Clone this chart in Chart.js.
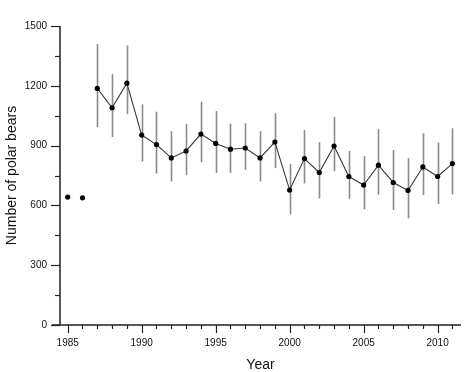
<!DOCTYPE html>
<html>
<head>
<meta charset="utf-8">
<script src="https://cdn.jsdelivr.net/npm/chart.js@4.4.1/dist/chart.umd.min.js"></script>
<style>
  html, body { margin: 0; padding: 0; background: #fff; }
  #wrap { width: 474px; height: 372px; position: relative; }
</style>
</head>
<body>
<div id="wrap"><canvas id="bears"></canvas></div>
<script>
// survey years and estimated number of polar bears, with confidence limits
const years = [1985, 1986, 1987, 1988, 1989, 1990, 1991, 1992, 1993, 1994, 1995, 1996, 1997, 1998,
               1999, 2000, 2001, 2002, 2003, 2004, 2005, 2006, 2007, 2008, 2009, 2010, 2011];
const estimates = [642, 638, 1187, 1090, 1213, 953, 905, 838, 873, 958, 911, 882, 888, 838,
                   918, 677, 835, 765, 898, 745, 702, 802, 715, 675, 793, 745, 810];
const lowerCI = [null, null, 993, 943, 1058, 820, 760, 720, 752, 817, 763, 763, 778, 720,
                 787, 555, 710, 635, 772, 633, 580, 653, 577, 535, 652, 607, 655];
const upperCI = [null, null, 1409, 1258, 1402, 1107, 1070, 972, 1008, 1120, 1073, 1010, 1012, 972,
                 1062, 808, 978, 917, 1043, 873, 847, 983, 878, 837, 962, 915, 987];
const xTickYears = [1985, 1990, 1995, 2000, 2005, 2010];
const yTickValues = [0, 300, 600, 900, 1200, 1500];

const FONT = "'Liberation Sans', Arial, Helvetica, sans-serif";

// early estimates (no interval) are shown as loose points, the rest as a joined series
const loosePoints = [];
const seriesPoints = [];
years.forEach((yr, i) => {
    const p = { x: yr, y: estimates[i] };
    if (lowerCI[i] === null) loosePoints.push(p); else seriesPoints.push(p);
});

const axesAndBars = {
    id: 'axesAndBars',
    beforeDatasetsDraw(chart) {
        const ctx = chart.ctx;
        const xs = chart.scales.x, ys = chart.scales.y;
        const area = chart.chartArea;
        ctx.save();
        // error bars
        ctx.strokeStyle = '#8a8a8a';
        ctx.lineWidth = 1.6;
        years.forEach((yr, i) => {
            if (lowerCI[i] === null) return;
            const px = Math.round(xs.getPixelForValue(yr)) + 0.5;
            ctx.beginPath();
            ctx.moveTo(px, ys.getPixelForValue(lowerCI[i]));
            ctx.lineTo(px, ys.getPixelForValue(upperCI[i]));
            ctx.stroke();
        });
        ctx.restore();
    },
    afterDraw(chart) {
        const ctx = chart.ctx;
        const xs = chart.scales.x, ys = chart.scales.y;
        const area = chart.chartArea;
        ctx.save();
        ctx.strokeStyle = '#222';
        ctx.lineWidth = 1.5;
        // axis lines
        ctx.beginPath();
        ctx.moveTo(area.left - 8, area.bottom);
        ctx.lineTo(area.right, area.bottom);
        ctx.moveTo(area.left, area.bottom);
        ctx.lineTo(area.left, area.top);
        ctx.stroke();
        // x ticks, one per year, longer at labelled years
        ctx.lineWidth = 1.2;
        years.forEach(yr => {
            const px = Math.round(xs.getPixelForValue(yr)) + 0.5;
            const len = xTickYears.includes(yr) ? 8 : 4;
            ctx.beginPath();
            ctx.moveTo(px, area.bottom);
            ctx.lineTo(px, area.bottom + len);
            ctx.stroke();
        });
        // y ticks every 150, longer at labelled values
        for (let v = 0; v <= 1500; v += 150) {
            const py = Math.round(ys.getPixelForValue(v)) + 0.5;
            const len = yTickValues.includes(v) ? 9 : 5;
            ctx.beginPath();
            ctx.moveTo(area.left - len, py);
            ctx.lineTo(area.left, py);
            ctx.stroke();
        }
        // axis titles
        ctx.fillStyle = '#111';
        ctx.font = '14px ' + FONT;
        ctx.textAlign = 'center';
        ctx.textBaseline = 'middle';
        ctx.fillText('Year', (area.left + area.right) / 2, 365);
        ctx.translate(12, (area.top + area.bottom) / 2);
        ctx.rotate(-Math.PI / 2);
        ctx.fillText('Number of polar bears', 0, 0);
        ctx.restore();
    }
};

new Chart(document.getElementById('bears'), {
    type: 'scatter',
    data: {
        datasets: [{
            label: 'Estimates',
            data: seriesPoints,
            showLine: true,
            borderColor: '#3a3a3a',
            borderWidth: 1.1,
            pointRadius: 2.6,
            pointBackgroundColor: '#000',
            pointBorderWidth: 0
        }, {
            label: 'Early estimates',
            data: loosePoints,
            showLine: false,
            pointRadius: 2.6,
            pointBackgroundColor: '#000',
            pointBorderWidth: 0
        }]
    },
    options: {
        responsive: true,
        maintainAspectRatio: false,
        animation: false,
        layout: { padding: { top: 26, right: 13, left: 0, bottom: 0 } },
        plugins: {
            legend: { display: false },
            tooltip: { enabled: false }
        },
        scales: {
            x: {
                type: 'linear',
                min: 1984.48,
                max: 2011.58,
                border: { display: false },
                grid: { display: false, drawTicks: false },
                afterBuildTicks: scale => { scale.ticks = xTickYears.map(v => ({ value: v })); },
                afterFit: scale => { scale.height = 47; },
                ticks: {
                    autoSkip: false,
                    maxRotation: 0,
                    padding: 12,
                    color: '#111',
                    font: { family: FONT, size: 10 },
                    callback: v => String(v)
                }
            },
            y: {
                min: 0,
                max: 1500,
                border: { display: false },
                grid: { display: false, drawTicks: false },
                afterBuildTicks: scale => { scale.ticks = yTickValues.map(v => ({ value: v })); },
                afterFit: scale => { scale.width = 60; },
                ticks: {
                    autoSkip: false,
                    padding: 13,
                    color: '#111',
                    font: { family: FONT, size: 10 },
                    callback: v => String(v)
                }
            }
        }
    },
    plugins: [axesAndBars]
});
</script>
</body>
</html>
